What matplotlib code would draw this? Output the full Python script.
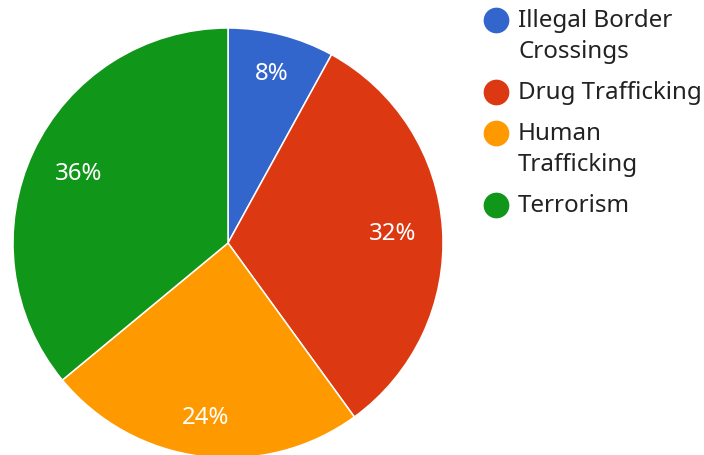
import numpy as np
import matplotlib.pyplot as plt

plt.rcParams['font.family'] = ['Noto Sans', 'DejaVu Sans']

# data
categories = ["Illegal Border Crossings", "Drug Trafficking", "Human Trafficking", "Terrorism"]
legend_lines = [["Illegal Border", "Crossings"], ["Drug Trafficking"], ["Human", "Trafficking"], ["Terrorism"]]
shares = [8, 32, 24, 36]
colors = ["#3366cc", "#dc3912", "#ff9900", "#109618"]

W, H = 704, 456
fig = plt.figure(figsize=(W / 100, H / 100), dpi=100)

# pie axes: center (228, 244) px, radius 215 px
cx, cy, r = 228, 244, 215
ax = fig.add_axes([(cx - r) / W, (H - cy - r) / H, 2 * r / W, 2 * r / H])
wedges, texts, autotexts = ax.pie(
    shares, colors=colors, startangle=90, counterclock=False,
    autopct=lambda p: f"{p:.0f}%", pctdistance=0.81,
    wedgeprops=dict(edgecolor="white", linewidth=1.1),
    textprops=dict(color="white", fontsize=17.3),
)

# pull side labels in a bit so the text box stays inside the slice
label_dist = [0.815, 0.765, 0.815, 0.77]
for w, t, d in zip(wedges, autotexts, label_dist):
    mid = np.deg2rad((w.theta1 + w.theta2) / 2)
    t.set_position((d * np.cos(mid), d * np.sin(mid)))

ax.set_xlim(-1, 1)
ax.set_ylim(-1, 1)
ax.set_aspect("equal")

# legend drawn in pixel space
lax = fig.add_axes([0, 0, 1, 1])
lax.set_xlim(0, W)
lax.set_ylim(H, 0)
lax.axis("off")

y = 21
for lines, c in zip(legend_lines, colors):
    lax.plot(496, y, marker="o", markersize=17.5, color=c, linestyle="none")
    for i, line in enumerate(lines):
        lax.text(518, y + i * 31, line, fontsize=17.4, color="#222222",
                 va="center", ha="left")
    y += 31 * (len(lines) - 1) + 41

fig.savefig("out.png", dpi=100)
